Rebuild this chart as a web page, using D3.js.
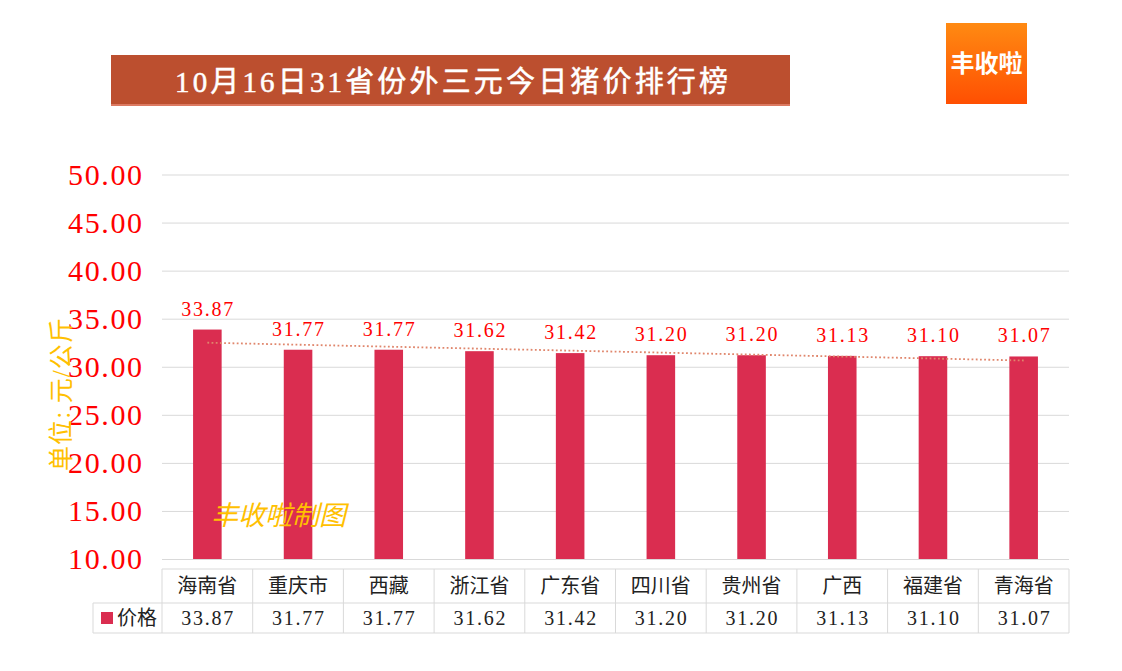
<!DOCTYPE html>
<html>
<head>
<meta charset="utf-8">
<script src="https://cdn.jsdelivr.net/npm/d3@7"></script>
<style>
html, body { margin: 0; background: #fff; }
svg { display: block; }
text { font-family: "Liberation Serif", "Noto Sans CJK SC", serif; }
</style>
</head>
<body>
<svg id="chart" width="1122" height="671"></svg>
<script>
var titleText = '10月16日31省份外三元今日猪价排行榜'
var logoText = '丰收啦'
var unitText = '单位: 元/公斤'
var sourceText = '丰收啦制图'
var seriesName = '价格'
var provinces = ['海南省', '重庆市', '西藏', '浙江省', '广东省', '四川省', '贵州省', '广西', '福建省', '青海省']
var prices = [33.87, 31.77, 31.77, 31.62, 31.42, 31.20, 31.20, 31.13, 31.10, 31.07]
var yTicks = [10, 15, 20, 25, 30, 35, 40, 45, 50]
var trendEnds = [32.5, 30.65]

var svg = d3.select('#chart')
var left = 162, right = 1069, top_ = 174.5, bottom = 559

var x = d3.scaleBand().domain(provinces).range([left, right]).paddingInner(.685).paddingOuter(.3425)
var y = d3.scaleLinear().domain([10, 50]).range([bottom, top_])
var center = d => x(d) + x.bandwidth() / 2

var defs = svg.append('defs')
var logoGrad = defs.append('linearGradient').attr('id', 'logoGrad').attr('x1', 0).attr('x2', 0).attr('y1', 0).attr('y2', 1)
logoGrad.append('stop').attr('offset', 0).attr('stop-color', '#ff8a12')
logoGrad.append('stop').attr('offset', 1).attr('stop-color', '#ff4f02')

// title bar
svg.append('rect').attr('x', 111).attr('y', 55).attr('width', 679).attr('height', 49).attr('fill', '#bc4f2f')
svg.append('rect').attr('x', 111).attr('y', 104).attr('width', 679).attr('height', 2).attr('fill', '#dc7a62')
svg.append('text').attr('x', 451.5).attr('y', 92).attr('text-anchor', 'middle')
    .attr('font-size', 29).attr('fill', '#fff').attr('stroke', '#fff').attr('stroke-width', .5)
    .attr('textLength', 553).attr('lengthAdjust', 'spacing')
    .text(titleText)

// logo
svg.append('rect').attr('x', 946).attr('y', 23).attr('width', 81).attr('height', 81).attr('fill', 'url(#logoGrad)')
svg.append('text').attr('x', 986.5).attr('y', 72).attr('text-anchor', 'middle')
    .attr('font-size', 24).attr('font-weight', 700).attr('fill', '#fff')
    .style('font-family', '"Noto Sans CJK SC"').text(logoText)

// y axis and grid
var yAxis = svg.append('g').attr('transform', `translate(${left},0)`)
    .call(d3.axisLeft(y).tickValues(yTicks).tickSize(-(right - left)).tickPadding(20).tickFormat(d3.format('.2f')))
yAxis.select('.domain').remove()
yAxis.selectAll('.tick line').attr('stroke', '#d9d9d9').attr('stroke-width', 1)
yAxis.selectAll('.tick text').attr('font-size', 30).attr('fill', '#ff0000').attr('dy', '.33em')
    .attr('textLength', 74).attr('lengthAdjust', 'spacing')
    .style('font-family', '"Liberation Serif"')

// bars
svg.append('g').selectAll('rect').data(provinces).join('rect')
    .attr('x', d => x(d))
    .attr('y', (d, i) => y(prices[i]))
    .attr('width', x.bandwidth())
    .attr('height', (d, i) => y(10) - y(prices[i]))
    .attr('fill', '#da2d50')

// trend line
svg.append('line')
    .attr('x1', center(provinces[0])).attr('x2', center(provinces[9]))
    .attr('y1', y(trendEnds[0])).attr('y2', y(trendEnds[1]))
    .attr('stroke', '#e0866c').attr('stroke-width', 1.8).attr('stroke-dasharray', '1.8 2.4')

// value labels
svg.append('g').selectAll('text').data(provinces).join('text')
    .attr('x', center)
    .attr('y', (d, i) => y(prices[i]) - 14)
    .attr('text-anchor', 'middle').attr('font-size', 20).attr('fill', '#ff0000')
    .attr('textLength', 52).attr('lengthAdjust', 'spacing')
    .text((d, i) => prices[i].toFixed(2))

// unit label and source note
svg.append('text').attr('transform', 'translate(70,471) rotate(-90)')
    .attr('font-size', 25).attr('fill', '#ffc000')
    .attr('textLength', 153).attr('lengthAdjust', 'spacing').text(unitText)
svg.append('text').attr('x', 211).attr('y', 525)
    .attr('font-size', 27).attr('font-style', 'italic').attr('fill', '#ffc000').text(sourceText)

// data table
var tableLine = '#d9d9d9'
var table = svg.append('g').attr('stroke', tableLine).attr('stroke-width', 1).attr('fill', 'none')
var edges = [left].concat(provinces.map(d => center(d) + x.step() / 2))
table.selectAll('.col').data(edges).join('line').attr('class', 'col')
    .attr('x1', d => d).attr('x2', d => d).attr('y1', 569).attr('y2', 633)
table.append('line').attr('x1', left).attr('x2', right).attr('y1', 569).attr('y2', 569)
table.append('line').attr('x1', 93).attr('x2', right).attr('y1', 603).attr('y2', 603)
table.append('line').attr('x1', 93).attr('x2', right).attr('y1', 633).attr('y2', 633)
table.append('line').attr('x1', 93).attr('x2', 93).attr('y1', 603).attr('y2', 633)

svg.append('g').selectAll('text').data(provinces).join('text')
    .attr('x', center).attr('y', 593).attr('text-anchor', 'middle')
    .attr('font-size', 20).attr('fill', '#222').text(d => d)
svg.append('g').selectAll('text').data(provinces).join('text')
    .attr('x', center).attr('y', 625).attr('text-anchor', 'middle')
    .attr('font-size', 20).attr('fill', '#222')
    .attr('textLength', 52).attr('lengthAdjust', 'spacing')
    .text((d, i) => prices[i].toFixed(2))

svg.append('rect').attr('x', 101).attr('y', 612).attr('width', 12).attr('height', 12).attr('fill', '#da2d50')
svg.append('text').attr('x', 117).attr('y', 625).attr('font-size', 20).attr('fill', '#222').text(seriesName)
</script>
</body>
</html>
